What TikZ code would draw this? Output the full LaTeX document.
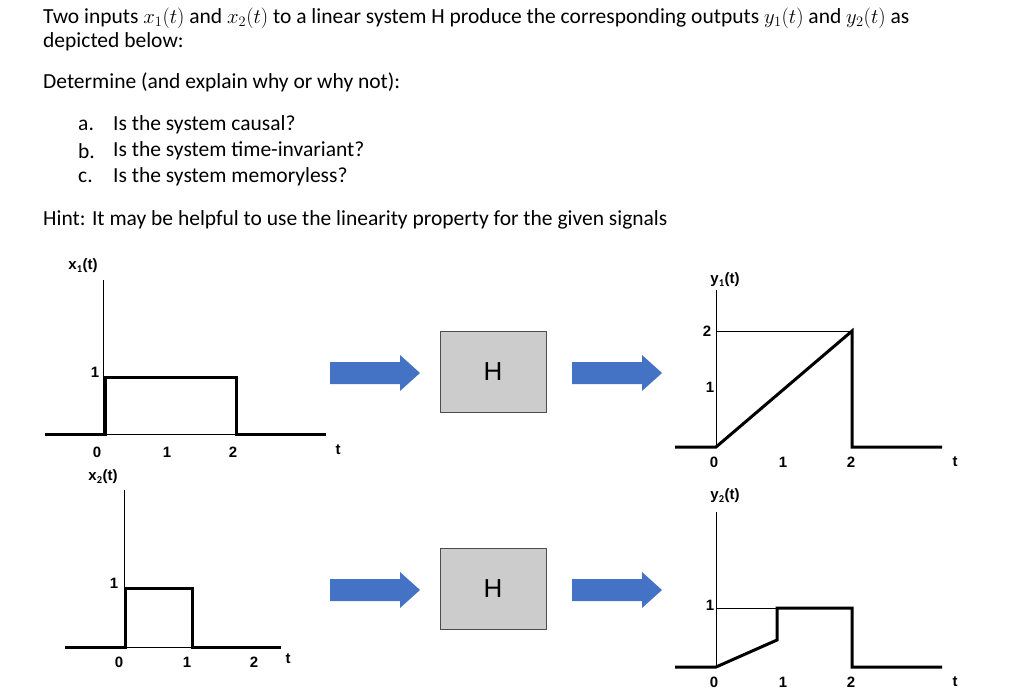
\documentclass[tikz,border=0pt]{standalone}
\usepackage{fontspec}
\setmainfont{Carlito}
\newfontfamily\arialf{Liberation Sans}
\definecolor{barblue}{RGB}{68,114,196}
\begin{document}
\begin{tikzpicture}[x=1pt,y=-1pt,
  txt/.style={anchor=west,inner sep=0pt,font=\fontsize{21.5}{26}\selectfont},
  lbl/.style={inner sep=0pt,font=\arialf\bfseries\fontsize{15}{18}\selectfont},
  sig/.style={line width=3pt,line join=miter},
  thin/.style={line width=0.6pt},
  hbox/.style={draw=black!70,fill=black!20,line width=0.8pt,minimum width=106pt,minimum height=81pt,font=\arialf\fontsize{26}{30}\selectfont},
  barrow/.style={fill=barblue}]
\useasboundingbox (0,0) rectangle (1024,694);
\node[txt] (l1) at (43,18) {Two inputs $x_1(t)$ and $x_2(t)$ to a linear system H produce the corresponding outputs $y_1(t)$ and $y_2(t)$ as};
\node[txt] (l2) at (43,42) {depicted below:};
\node[txt] (l3) at (43,82) {Determine (and explain why or why not):};
\node[txt] (a1) at (78,125) {a.};\node[txt] (a2) at (113,125) {Is the system causal?};
\node[txt] (b1) at (78,151) {b.};\node[txt] (b2) at (113,151) {Is the system time-invariant?};
\node[txt] (c1) at (78,177) {c.};\node[txt] (c2) at (113,177) {Is the system memoryless?};
\node[txt] (hint) at (43,220) {Hint: It may be helpful to use the linearity property for the given signals};
% x1
\draw[thin] (103,280) -- (103,434);
\draw[thin] (105,434) -- (236,434);
\draw[sig] (45,434) -- (105,434) -- (105,377) -- (236,377) -- (236,434) -- (326,434);
\node[lbl] (x1l) at (83,266) {x$_\mathbf{1}$(t)};
\node[lbl] at (95,372) {1};
\node[lbl] at (97,452) {0};\node[lbl] at (167,452) {1};\node[lbl] at (233,452) {2};\node[lbl] at (338,450) {t};
% x2
\draw[thin] (124,490) -- (124,647);
\draw[thin] (124,647) -- (192,647);
\draw[sig] (65,647) -- (125,647) -- (125,588) -- (192,588) -- (192,647) -- (281,647);
\node[lbl] (x2l) at (103,477) {x$_\mathbf{2}$(t)};
\node[lbl] at (114,583) {1};
\node[lbl] at (119,662) {0};\node[lbl] at (187,662) {1};\node[lbl] at (254,662) {2};\node[lbl] at (288,659) {t};
% arrows and boxes
\foreach \ax/\ay in {330/373,572/373,330/590,572/590}{
  \fill[barrow] (\ax,\ay-11) -- ++(70,0) -- ++(0,-7) -- ++(20,18) -- ++(-20,18) -- ++(0,-7) -- ++(-70,0) -- cycle;
}
\node[hbox] (h1) at (493,372) {H};
\node[hbox] (h2) at (493,589) {H};
% y1
\draw[thin] (716,290) -- (716,447);
\draw[thin] (716,331) -- (852,331);
\draw[sig] (675,447) -- (716,447) -- (852,331) -- (852,447) -- (942,447);
\node[lbl] (y1l) at (725,280) {y$_\mathbf{1}$(t)};
\node[lbl] at (707,331) {2};\node[lbl] at (710,387) {1};
\node[lbl] at (714,462) {0};\node[lbl] at (783,462) {1};\node[lbl] at (851,462) {2};\node[lbl] at (955,462) {t};
% y2
\draw[thin] (716,512) -- (716,667);
\draw[thin] (716,608) -- (777,608);
\draw[sig] (675,667) -- (716,667) -- (777,640) -- (777,608) -- (852,608) -- (852,667) -- (942,667);
\node[lbl] (y2l) at (725,496) {y$_\mathbf{2}$(t)};
\node[lbl] at (710,605) {1};
\node[lbl] at (714,682) {0};\node[lbl] at (783,682) {1};\node[lbl] at (851,682) {2};\node[lbl] at (955,682) {t};
\end{tikzpicture}
\end{document}
